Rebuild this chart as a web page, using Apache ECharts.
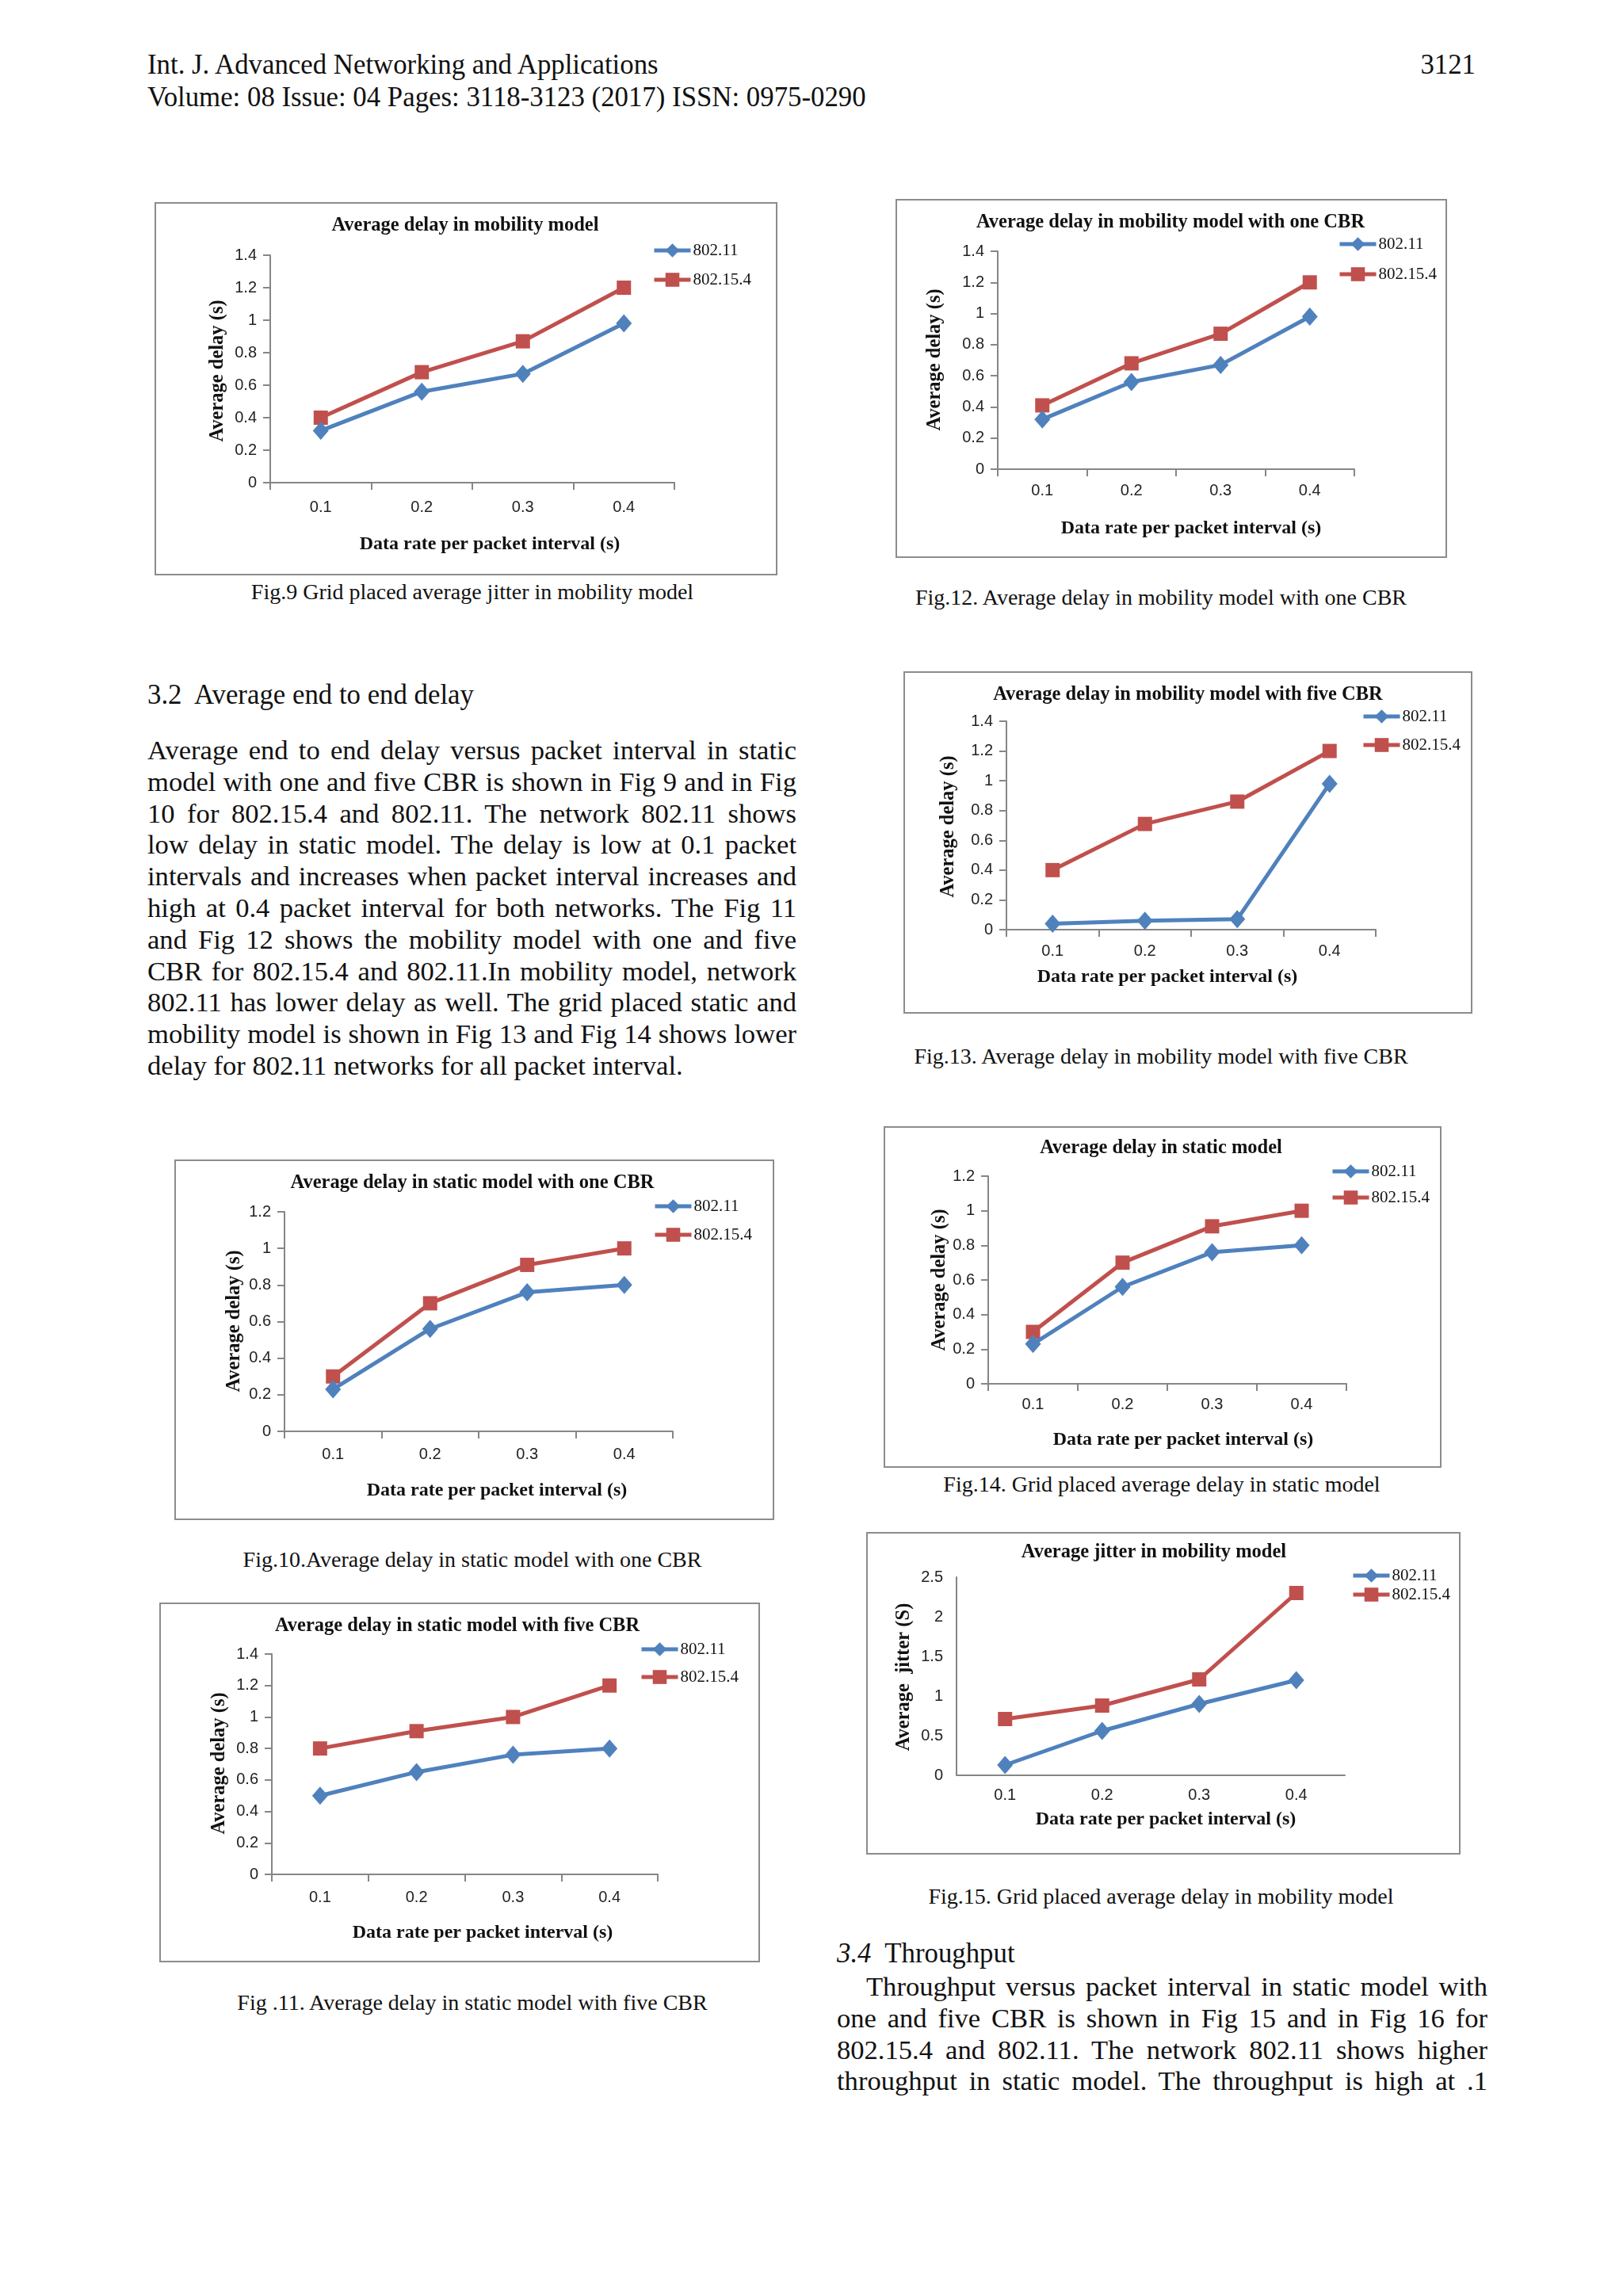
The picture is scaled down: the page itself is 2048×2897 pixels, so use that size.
<!DOCTYPE html>
<html>
<head>
<meta charset="utf-8">
<script src="https://cdn.jsdelivr.net/npm/echarts@6/dist/echarts.min.js"></script>
<style>
  html, body { margin:0; padding:0; background:#fff; }
  #page { position:relative; width:2048px; height:2897px; background:#fff; overflow:hidden;
          font-family:"Liberation Serif","DejaVu Serif",serif; color:#111; }
  .txt { position:absolute; white-space:nowrap; font-size:34.8px; line-height:40px; }
  .line { position:absolute; font-size:34.6px; line-height:40px; text-align:justify; text-align-last:justify; }
  .line.last { text-align:left; text-align-last:left; }
  .cap { position:absolute; white-space:nowrap; font-size:28px; line-height:34px; transform:translate(-50%,-50%); }
  .box { position:absolute; box-sizing:border-box; border:2px solid #8c8c8c; background:#fff; }
</style>
</head>
<body>
<div id="page"></div>
<script>
// ---------------- data ----------------
const categories = ['0.1', '0.2', '0.3', '0.4'];
const seriesNames = ['802.11', '802.15.4'];

const fig9_80211  = [0.32, 0.56, 0.67, 0.98];
const fig9_802154 = [0.40, 0.68, 0.87, 1.20];

const fig12_80211  = [0.32, 0.56, 0.67, 0.98];
const fig12_802154 = [0.41, 0.68, 0.87, 1.20];

const fig13_80211  = [0.04, 0.06, 0.07, 0.98];
const fig13_802154 = [0.40, 0.71, 0.86, 1.20];

const fig10_80211  = [0.23, 0.56, 0.76, 0.80];
const fig10_802154 = [0.30, 0.70, 0.91, 1.00];

const fig14_80211  = [0.23, 0.56, 0.76, 0.80];
const fig14_802154 = [0.30, 0.70, 0.91, 1.00];

const fig11_80211  = [0.50, 0.65, 0.76, 0.80];
const fig11_802154 = [0.80, 0.91, 1.00, 1.20];

const fig15_80211  = [0.13, 0.56, 0.90, 1.20];
const fig15_802154 = [0.71, 0.88, 1.21, 2.30];

const xAxisTitle = 'Data rate per packet interval (s)';
const delayTitle = 'Average delay (s)';
const jitterTitle = 'Average  jitter (S)';

// ---------------- layout (positions / styles only) ----------------
const charts = [
  { title:'Average delay in mobility model', blue:fig9_80211, red:fig9_802154, yMax:1.4, yInt:0.2, yName:delayTitle,
    box:[195,255,786,471], grid:[146,67,510,287], t:[392,30], leg:[623,56,37], yn:[80,213], xn:[423,432], xm:21, ticks:true,
    cap:['Fig.9 Grid placed average jitter in mobility model',596,747] },
  { title:'Average delay in mobility model with one CBR', blue:fig12_80211, red:fig12_802154, yMax:1.4, yInt:0.2, yName:delayTitle,
    box:[1130,251,696,453], grid:[129,66,450,275], t:[347,30], leg:[553,52,38], yn:[50,203], xn:[373,416], xm:17, ticks:true,
    cap:['Fig.12. Average delay in mobility model with one CBR',1465,754] },
  { title:'Average delay in mobility model with five CBR', blue:fig13_80211, red:fig13_802154, yMax:1.4, yInt:0.2, yName:delayTitle,
    box:[1140,847,718,432], grid:[130,63,466,263], t:[359,30], leg:[573,52,36], yn:[57,196], xn:[333,386], xm:17, ticks:true,
    cap:['Fig.13. Average delay in mobility model with five CBR',1465,1333] },
  { title:'Average delay in static model with one CBR', blue:fig10_80211, red:fig10_802154, yMax:1.2, yInt:0.2, yName:delayTitle,
    box:[220,1463,757,455], grid:[139,66,490,277], t:[376,30], leg:[599,54,36], yn:[76,204], xn:[407,418], xm:19, ticks:true,
    cap:['Fig.10.Average delay in static model with one CBR',596,1968] },
  { title:'Average delay in static model', blue:fig14_80211, red:fig14_802154, yMax:1.2, yInt:0.2, yName:delayTitle,
    box:[1115,1421,704,431], grid:[132,63,452,262], t:[350,28], leg:[559,52,33], yn:[71,194], xn:[378,396], xm:16, ticks:true,
    cap:['Fig.14. Grid placed average delay in static model',1466,1873] },
  { title:'Average delay in static model with five CBR', blue:fig11_80211, red:fig11_802154, yMax:1.4, yInt:0.2, yName:delayTitle,
    box:[201,2022,758,454], grid:[142,65,487,278], t:[376,30], leg:[601,54,35], yn:[76,203], xn:[408,417], xm:19, ticks:true,
    cap:['Fig .11. Average delay in static model with five CBR',596,2527] },
  { title:'Average jitter in mobility model', blue:fig15_80211, red:fig15_802154, yMax:2.5, yInt:0.5, yName:jitterTitle,
    box:[1093,1933,750,407], grid:[114,57,490,250], t:[363,26], leg:[607,50,24], yn:[48,183], xn:[378,363], xm:15, ticks:false,
    cap:['Fig.15. Grid placed average delay in mobility model',1465,2393] }
];

const BLUE = '#4F81BD', RED = '#C0504D', AXIS = '#868686';
const page = document.getElementById('page');

function addText(cls, text, x, y, extra) {
  const d = document.createElement('div');
  d.className = cls; d.textContent = text;
  d.style.left = x + 'px'; d.style.top = y + 'px';
  if (extra) Object.assign(d.style, extra);
  page.appendChild(d); return d;
}

// header
addText('txt', 'Int. J. Advanced Networking and Applications', 186, 62);
addText('txt', 'Volume: 08 Issue: 04 Pages: 3118-3123 (2017) ISSN: 0975-0290', 186, 103);
addText('txt', '3121', 0, 62, {left:'auto', right:(2048-1862)+'px'});

// section 3.2
addText('txt', '3.2  Average end to end delay', 186, 857, {whiteSpace:'pre'});
const para32 = [
  'Average end to end delay versus packet interval in static',
  'model with one and five CBR is shown in Fig 9 and in Fig',
  '10 for 802.15.4 and 802.11. The network 802.11 shows',
  'low delay in static model. The delay is low at 0.1 packet',
  'intervals and increases when packet interval increases and',
  'high at 0.4 packet interval for both networks. The Fig 11',
  'and Fig 12 shows the mobility model with one and five',
  'CBR for 802.15.4 and 802.11.In mobility model, network',
  '802.11 has lower delay as well. The grid placed static and',
  'mobility model is shown in Fig 13 and Fig 14 shows lower',
  'delay for 802.11 networks for all packet interval.'
];
para32.forEach((s, i) => {
  const d = addText('line' + (i === para32.length - 1 ? ' last' : ''), s, 186, 926 + i * 39.8);
  d.style.width = '819px';
});

// section 3.4
const h34 = addText('txt', '', 1056, 2445);
h34.innerHTML = '<i>3.4</i>&nbsp; Throughput';
const para34 = [
  'Throughput versus packet interval in static model with',
  'one and five CBR is shown in Fig 15 and in Fig 16 for',
  '802.15.4 and 802.11. The network 802.11 shows higher',
  'throughput in static model. The throughput is high at .1'
];
para34.forEach((s, i) => {
  const indent = i === 0 ? 37 : 0;
  const d = addText('line', s, 1056 + indent, 2486 + i * 39.8);
  d.style.width = (821 - indent) + 'px';
});

// charts
charts.forEach(c => {
  const [bx, by, bw, bh] = c.box;
  const box = document.createElement('div');
  box.className = 'box';
  Object.assign(box.style, {left:bx+'px', top:by+'px', width:bw+'px', height:bh+'px'});
  page.appendChild(box);
  const inner = document.createElement('div');
  Object.assign(inner.style, {position:'absolute', left:'-2px', top:'-2px', width:bw+'px', height:bh+'px'});
  box.appendChild(inner);
  addText('cap', c.cap[0], c.cap[1], c.cap[2]);

  const chart = echarts.init(inner, null, {width:bw, height:bh});
  const [gl, gt, gw, gh] = c.grid;
  const serifBold = {fontFamily:'Liberation Serif', fontWeight:'bold', fontSize:24.5, fill:'#111'};
  chart.setOption({
    animation:false,
    backgroundColor:'transparent',
    grid:{left:gl, top:gt, width:gw, height:gh, containLabel:false},
    legend:{
      orient:'vertical', left:c.leg[0], top:c.leg[1] - 11,
      itemWidth:46, itemHeight:22, itemGap:c.leg[2] - 22,
      lineStyle:{width:5},
      textStyle:{fontFamily:'Liberation Serif', fontSize:21, color:'#111', lineHeight:22, padding:[0,0,0,-2]},
      data:seriesNames
    },
    xAxis:{
      type:'category', data:categories, boundaryGap:true,
      axisLine:{lineStyle:{color:AXIS, width:2}},
      axisTick:{show:c.ticks, length:9, lineStyle:{color:AXIS, width:2}},
      axisLabel:{margin:c.xm, color:'#222', fontFamily:'Liberation Sans', fontSize:20},
      splitLine:{show:false}
    },
    yAxis:{
      type:'value', min:0, max:c.yMax, interval:c.yInt,
      axisLine:{show:true, lineStyle:{color:AXIS, width:2}},
      axisTick:{show:c.ticks, length:9, lineStyle:{color:AXIS, width:2}},
      axisLabel:{margin:17, color:'#222', fontFamily:'Liberation Sans', fontSize:20},
      splitLine:{show:false}
    },
    graphic:[
      {type:'text', x:c.t[0], y:c.t[1], style:Object.assign({text:c.title, align:'center', verticalAlign:'middle'}, serifBold)},
      {type:'text', x:c.xn[0], y:c.xn[1], style:Object.assign({text:xAxisTitle, align:'center', verticalAlign:'middle'}, serifBold, {fontSize:24})},
      {type:'text', x:c.yn[0], y:c.yn[1], rotation:Math.PI/2, style:Object.assign({text:c.yName, align:'center', verticalAlign:'middle'}, serifBold, {fontSize:24.5})}
    ],
    series:[
      {name:seriesNames[0], type:'line', data:c.blue, symbol:'diamond', symbolSize:[20,23],
       itemStyle:{color:BLUE}, lineStyle:{color:BLUE, width:5}, z:3},
      {name:seriesNames[1], type:'line', data:c.red, symbol:'rect', symbolSize:18,
       itemStyle:{color:RED}, lineStyle:{color:RED, width:5}, z:2}
    ]
  });
});
</script>
</body>
</html>
